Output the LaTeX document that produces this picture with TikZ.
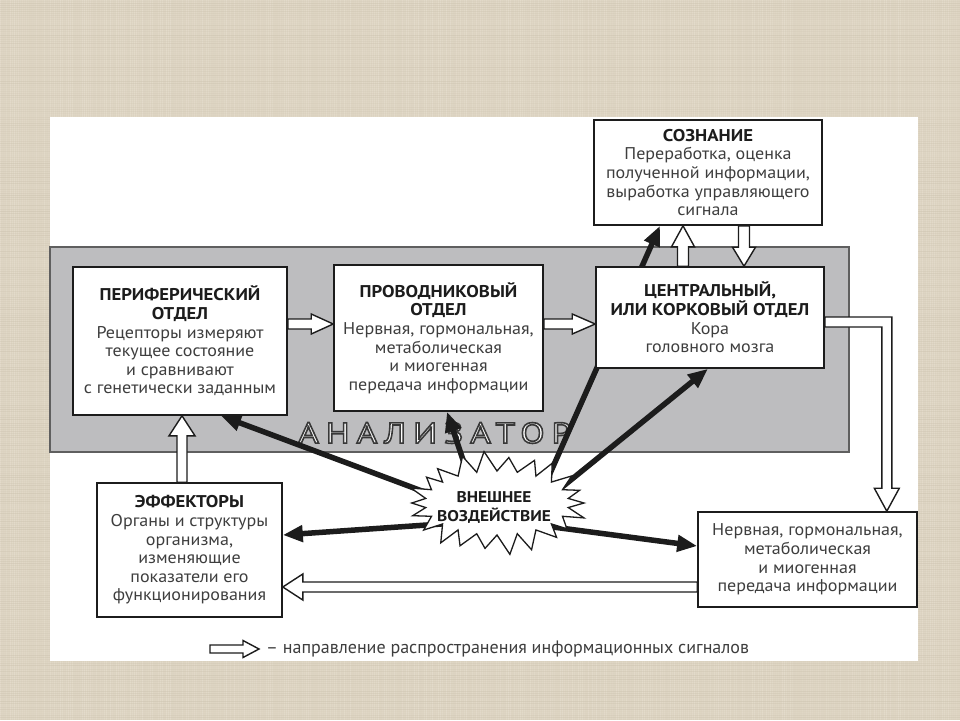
\documentclass[tikz,border=0pt]{standalone}
\usepackage{fontspec}
\setmainfont{PT Sans}
\usetikzlibrary{calc,arrows.meta}
\definecolor{beige}{RGB}{221,212,194}
\definecolor{beigelight}{RGB}{236,229,215}
\definecolor{beigedark}{RGB}{200,190,170}
\definecolor{grayfill}{RGB}{189,189,191}
\definecolor{grayedge}{RGB}{95,95,95}
\definecolor{ink}{RGB}{28,28,28}
\definecolor{bodyink}{RGB}{62,62,62}
\pgfdeclarelayer{bg}
\pgfdeclarelayer{mid}
\pgfsetlayers{bg,mid,main}
\newcommand\ttl[1]{{\bfseries\addfontfeature{FakeStretch=1.10}\color{ink}#1}}
\newcommand\outl[1]{\special{pdf:literal direct 2 Tr 1.6 w 0.22 0.22 0.22 RG}#1\special{pdf:literal direct 0 Tr}}
\newcommand\hollowarrow[5]{%
  \coordinate (ha-b) at ($(#2)!#5pt!(#1)$);
  \draw[hollowarr] ($(#1)!#3pt!90:(#2)$) -- ($(ha-b)!#3pt!90:(#2)$) -- ($(ha-b)!#4pt!90:(#2)$) -- (#2) -- ($(ha-b)!#4pt!-90:(#2)$) -- ($(ha-b)!#3pt!-90:(#2)$) -- ($(#1)!#3pt!-90:(#2)$) -- cycle;
}
\begin{document}
\begin{tikzpicture}[x=1pt,y=-1pt,
  box/.style={draw=ink, line width=1.6pt, fill=white, align=center, inner sep=2pt,
    font=\fontsize{17}{18.6}\selectfont\addfontfeature{FakeStretch=1.06}, text=bodyink},
  hollowarr/.style={draw=ink, line width=1.4pt, fill=white, line join=miter},
  blackarr/.style={draw=ink, line width=5.5pt, -{Triangle[length=20pt,width=16pt]}},
  analyzer/.style={draw=grayedge, fill=grayfill, line width=2.5pt, inner sep=0pt},
  anlet/.style={text=white, inner sep=0pt,
    font=\fontsize{29}{30}\selectfont\addfontfeature{FakeStretch=1.22,LetterSpace=24}},
  bursttext/.style={inner sep=0pt, align=center, text=ink,
    font=\bfseries\fontsize{15.5}{19}\selectfont\addfontfeature{FakeStretch=1.12}},
  burstline/.style={draw=ink, fill=white, line width=1.3pt, line join=miter},
  legend/.style={text=bodyink, inner sep=0pt, font=\fontsize{18}{19}\selectfont}
]
\useasboundingbox (0,0) rectangle (960,720);
\begin{pgfonlayer}{bg}
  \fill[beige] (0,0) rectangle (960,720);
  \pgfmathsetseed{7}
  \foreach \t in {0,2,...,960} {
    \pgfmathsetmacro\op{0.05+0.4*rnd}
    \draw[beigelight, line width=0.6pt, opacity=\op] (\t,0) -- (\t,720);
  }
  \foreach \t in {1,3,...,720} {
    \pgfmathsetmacro\op{0.05+0.35*rnd}
    \draw[beigedark, line width=0.6pt, opacity=\op] (0,\t) -- (960,\t);
  }
  \fill[white] (50,117) rectangle (918,661);
  \node[analyzer, minimum width=799pt, minimum height=205pt] (anl) at (449.5,349.5) {};
  \node[anlet, anchor=west] (anltext) at (298,433) {\outl{АНАЛИЗАТОР}};
\end{pgfonlayer}

% boxes
\node[box, minimum width=214pt, minimum height=148pt] (peri) at (180,341)
  {\ttl{ПЕРИФЕРИЧЕСКИЙ}\\\ttl{ОТДЕЛ}\\Рецепторы измеряют\\текущее состояние\\и сравнивают\\с генетически заданным};
\node[box, minimum width=209pt, minimum height=146pt] (cond) at (438.5,338)
  {\ttl{ПРОВОДНИКОВЫЙ}\\\ttl{ОТДЕЛ}\\Нервная, гормональная,\\метаболическая\\и миогенная\\передача информации};
\node[box, minimum width=228pt, minimum height=101pt] (central) at (710,317.5)
  {\ttl{ЦЕНТРАЛЬНЫЙ,}\\\ttl{ИЛИ КОРКОВЫЙ ОТДЕЛ}\\Кора\\головного мозга};
\node[box, minimum width=228pt, minimum height=105pt] (consc) at (708,172.5)
  {\ttl{СОЗНАНИЕ}\\Переработка, оценка\\полученной информации,\\выработка управляющего\\сигнала};
\node[box, minimum width=185pt, minimum height=134pt] (effect) at (189.5,550)
  {\ttl{ЭФФЕКТОРЫ}\\Органы и структуры\\организма,\\изменяющие\\показатели его\\функционирования};
\node[box, minimum width=219pt, minimum height=95pt] (infob) at (807.5,559.5)
  {Нервная, гормональная,\\метаболическая\\и миогенная\\передача информации};

% starburst: zigzag outline round the text node
\coordinate (sc) at (497,503);
\draw[burstline] ($(sc)+(0:87pt and 49pt)$)
  \foreach \i [evaluate=\i as \rx using {mod(\i,2)==0 ? 87+4*sin(\i*97) : 72},
               evaluate=\i as \ry using {mod(\i,2)==0 ? 49+4*sin(\i*131) : 32}] in {1,...,43}
  { -- ($(sc)+({\i*360/44}:\rx pt and \ry pt)$) } -- cycle;
\node[bursttext] (star) at (494,507) {ВНЕШНЕЕ\\ВОЗДЕЙСТВИЕ};

% black arrows (under boxes and star)
\begin{pgfonlayer}{mid}
  \draw[blackarr] ($(star.center)+(-24,2)$) -- ($(peri.south)+(41,0)$);
  \draw[blackarr] ($(star.center)+(-24,15)$) -- ($(effect.east)+(0,-15)$);
  \draw[blackarr] ($(star.center)+(-16,-2)$) -- ($(cond.south)+(8.5,0)$);
  \draw[blackarr] ($(star.center)+(42,-2)$) -- ($(consc.south)+(-48,0)$);
  \draw[blackarr] ($(star.center)+(46,-2)$) -- ($(central.south)+(-2,0)$);
  \draw[blackarr] ($(star.center)+(36,17)$) -- ($(infob.west)+(0,-13.5)$);
\end{pgfonlayer}

% hollow information arrows
\coordinate (h1s) at ($(peri.east)+(0,-17)$);
\coordinate (h1e) at (h1s -| cond.west);
\hollowarrow{h1s}{h1e}{5}{10}{22}
\coordinate (h2s) at (cond.east |- h1s);
\coordinate (h2e) at (h2s -| central.west);
\hollowarrow{h2s}{h2e}{5}{10}{23}
\coordinate (h3s) at ($(central.north)+(-27,0)$);
\coordinate (h3e) at (h3s |- consc.south);
\hollowarrow{h3s}{h3e}{5.5}{11.5}{21}
\coordinate (h4s) at ($(consc.south)+(36,0)$);
\coordinate (h4e) at (h4s |- central.north);
\hollowarrow{h4s}{h4e}{5.5}{11.5}{19}
\coordinate (h6s) at ($(infob.west)+(0,27.5)$);
\coordinate (h6e) at (h6s -| effect.east);
\hollowarrow{h6s}{h6e}{5}{13}{20}
\coordinate (h7s) at ($(effect.north)+(-7.5,0)$);
\coordinate (h7e) at (h7s |- peri.south);
\hollowarrow{h7s}{h7e}{5}{13}{20}
% elbow arrow from central to lower right box
\coordinate (h5s) at ($(central.east)+(0,4.5)$);
\coordinate (h5k) at ($(h5s)+(62,0)$);
\coordinate (h5e) at (h5k |- infob.north);
\draw[hollowarr] ($(h5s)+(0,-5)$) -- ($(h5k)+(5,-5)$) -- ($(h5e)+(5,-23)$) -- ($(h5e)+(12.5,-23)$)
  -- (h5e) -- ($(h5e)+(-12.5,-23)$) -- ($(h5e)+(-5,-23)$) -- ($(h5k)+(-5,5)$) -- ($(h5s)+(0,5)$) -- cycle;

% legend
\node[legend, anchor=west] (legtext) at (266,649) {– направление распространения информационных сигналов};
\coordinate (lgs) at (210,649);
\coordinate (lge) at ($(legtext.west)+(-7,0)$);
\hollowarrow{lgs}{lge}{4}{8.5}{16}
\end{tikzpicture}
\end{document}
